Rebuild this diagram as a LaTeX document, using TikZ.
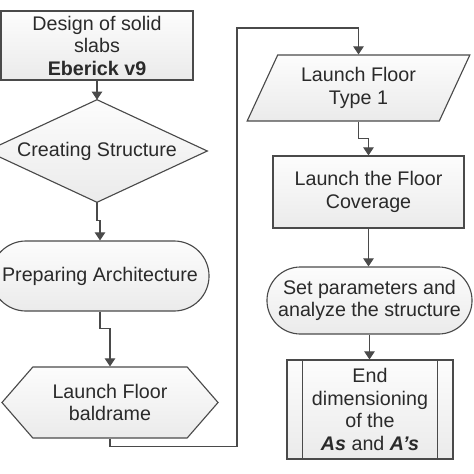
\documentclass[tikz,border=0pt]{standalone}
\usepackage{fontspec}
\setmainfont{Liberation Sans}
\usetikzlibrary{positioning}
\usetikzlibrary{shapes,shapes.geometric,shapes.symbols,shapes.misc}
\usetikzlibrary{arrows.meta,backgrounds}
\usepackage{xcolor}
\definecolor{ligne}{HTML}{4A4A4A}
\definecolor{texte}{HTML}{2A2A2A}

\begin{document}
\begin{tikzpicture}[x=0.025cm,y=-0.025cm,
    f/.style={-{Triangle[length=0.2cm,width=0.26cm]},line width=0.8pt,draw=ligne},%
    c/.style={line width=0.8pt,draw=ligne},%
    fo/.style={draw=ligne,line width=0.8pt,top color=gray!2,bottom color=gray!16},%
    t/.style={text=texte,align=center,inner sep=0pt,font=\fontsize{14}{16}\selectfont},%
    b/.style={fo,t}]
    \useasboundingbox (0,0) rectangle (474,474);
    % colonne de gauche
    \node[b,minimum width=4.8cm,minimum height=1.725cm] (design) at (97,45.5)
      {Design of solid\\slabs\\\textbf{Eberick v9}} ;
    \draw[ligne,line width=2pt] (design.north west) -- (design.south west);
    \node[t,minimum width=5.5cm,minimum height=2.55cm] (create) at (97,151)
      {Creating Structure} ;
    \begin{scope}[on background layer]
      \path[fo] (create.north) -- (create.east) -- (create.south) -- (create.west) -- cycle;
    \end{scope}
    \node[b,rounded rectangle,minimum width=5.45cm,minimum height=1.75cm] (prep) at (100,276)
      {Preparing Architecture} ;
    \node[b,signal,signal to=west and east,signal pointer angle=98,
      minimum width=5.4cm,minimum height=1.775cm] (baldrame) at (110,402.5)
      {Launch Floor\\baldrame} ;
    % colonne de droite
    \node[b,trapezium,trapezium left angle=62,trapezium right angle=118,trapezium stretches=true,
      minimum width=5.575cm,minimum height=1.65cm] (type1) at (358.5,88)
      {Launch Floor\\Type 1} ;
    \node[b,minimum width=4.775cm,minimum height=1.8cm] (coverage) at (368.5,192)
      {Launch the Floor\\Coverage} ;
    \node[b,rounded rectangle,minimum width=5.125cm,minimum height=1.675cm] (params) at (369.5,300.5)
      {Set parameters and\\analyze the structure} ;
    \node[b,minimum width=4.15cm,minimum height=2.475cm] (endd) at (370,409.5)
      {End\\dimensioning\\of the\\\textbf{\textit{As}} and \textbf{\textit{A’s}}} ;
    \draw[c] ([xshift=0.4cm]endd.north west) -- ([xshift=0.4cm]endd.south west);
    \draw[c] ([xshift=-0.4cm]endd.north east) -- ([xshift=-0.4cm]endd.south east);

    \coordinate (haut) at (237,28);
    \draw[f] (design) -- (create) ;
    \draw[f] (create.south) -- ++(0,18) -| (prep.north) ;
    \draw[f] (prep.south) -- ++(0,17) -| (baldrame.north) ;
    \draw[f] (baldrame.south) -- ++(0,8) -| (haut) -| (type1.north) ;
    \draw[f] (type1.south) -- ++(0,17) -| (coverage.north) ;
    \draw[f] (coverage.south) -- (coverage.south |- params.north) ;
    \draw[f] (params.south) -- (params.south |- endd.north) ;
\end{tikzpicture}
\end{document}
